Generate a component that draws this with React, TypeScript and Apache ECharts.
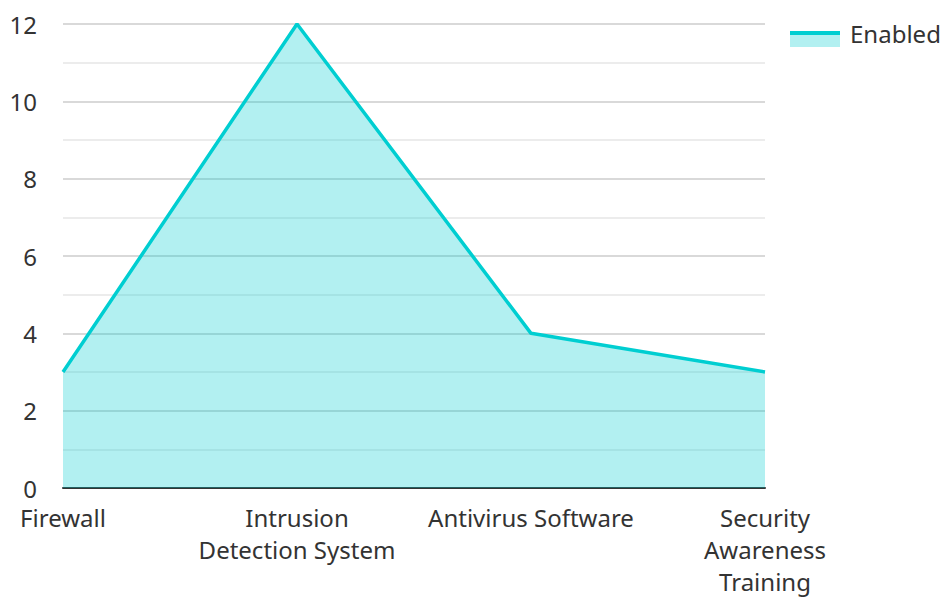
import React, { useEffect, useRef } from "react";
import * as echarts from "echarts";

const categories = [
  "Firewall",
  "Intrusion\nDetection System",
  "Antivirus Software",
  "Security\nAwareness\nTraining",
];
const enabledValues = [3, 12, 4, 3];
const seriesName = "Enabled";
const lineColor = "#00CED1";

export default function App() {
  const ref = useRef<HTMLDivElement>(null);
  useEffect(() => {
    if (!ref.current) return;
    const chart = echarts.init(ref.current, null, { renderer: "svg" });
    const font = "'Noto Sans', sans-serif";
    chart.setOption({
      animation: false,
      textStyle: { fontFamily: font },
      grid: { left: 63, right: 181, top: 24, bottom: 104 },
      xAxis: {
        type: "category",
        data: categories,
        boundaryGap: false,
        axisLine: { lineStyle: { color: "#333", width: 2 } },
        axisTick: { show: false },
        axisLabel: {
          color: "#333",
          fontSize: 24,
          lineHeight: 32,
          margin: 13,
          fontFamily: font,
          interval: 0,
        },
      },
      yAxis: {
        type: "value",
        min: 0,
        max: 12,
        interval: 2,
        axisLine: { show: false },
        axisTick: { show: false },
        axisLabel: { color: "#333", fontSize: 24, lineHeight: 20, margin: 26, fontFamily: font },
        splitLine: { lineStyle: { color: "#cccccc", width: 1.5 } },
        minorTick: { show: false, splitNumber: 2 },
        minorSplitLine: { show: true, lineStyle: { color: "#e6e6e6", width: 1.5 } },
      },
      series: [
        {
          name: seriesName,
          type: "line",
          data: enabledValues,
          symbol: "none",
          lineStyle: { color: lineColor, width: 3.5 },
          itemStyle: { color: lineColor },
          areaStyle: { color: lineColor, opacity: 0.3 },
        },
      ],
      graphic: [
        {
          type: "rect",
          left: 790,
          top: 31,
          shape: { width: 50, height: 16 },
          style: { fill: lineColor, opacity: 0.3 },
        },
        {
          type: "line",
          shape: { x1: 790, y1: 33, x2: 840, y2: 33 },
          style: { stroke: lineColor, lineWidth: 4 },
        },
        {
          type: "text",
          left: 850,
          top: 21,
          style: { text: seriesName, fill: "#333", fontSize: 24, fontFamily: font },
        },
      ],
    });
    return () => chart.dispose();
  }, []);
  return <div ref={ref} style={{ width: 946, height: 597, position: "absolute", left: 0, top: 0 }} />;
}
